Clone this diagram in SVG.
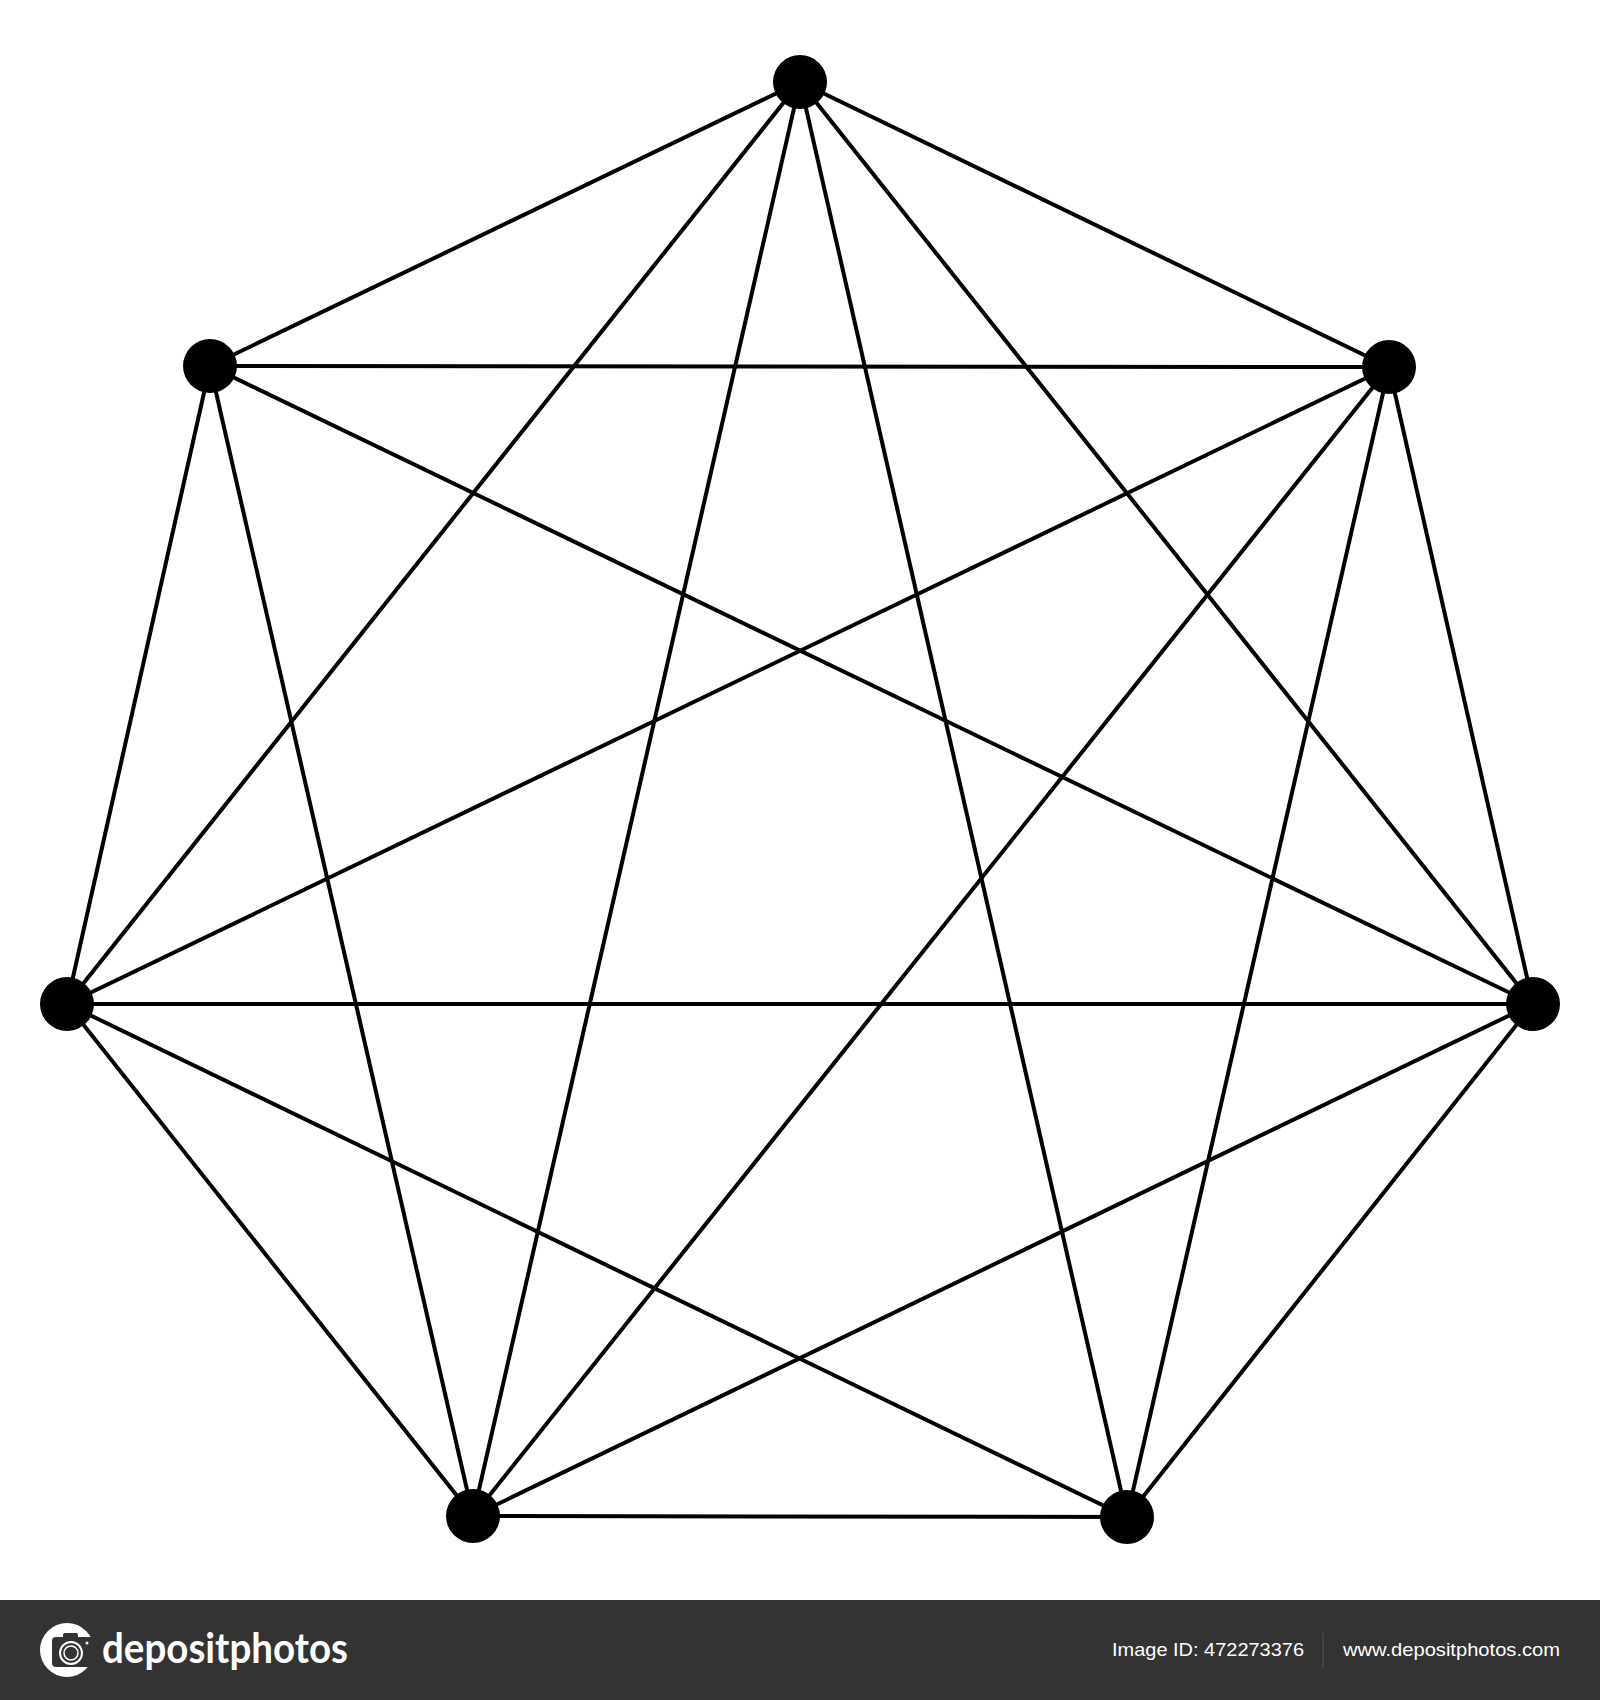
<svg xmlns="http://www.w3.org/2000/svg" width="1600" height="1700" viewBox="0 0 1600 1700">
<style>
.e{stroke:#000;stroke-width:4;stroke-linecap:round;fill:none}
.n{fill:#000}
.bt{font-family:"Liberation Sans",Arial,sans-serif;fill:#fff;font-size:19px}
.logo{font-family:Lato,"Open Sans",sans-serif;font-weight:700;fill:#fff;font-size:42px}
</style>
<rect x="0" y="0" width="1600" height="1700" fill="#fff"/>
<g id="connectors">
<line class="e" x1="800" y1="82" x2="210" y2="366"/>
<line class="e" x1="800" y1="82" x2="1389" y2="367"/>
<line class="e" x1="800" y1="82" x2="67" y2="1004"/>
<line class="e" x1="800" y1="82" x2="1533" y2="1004"/>
<line class="e" x1="800" y1="82" x2="473" y2="1516"/>
<line class="e" x1="800" y1="82" x2="1127" y2="1517"/>
<line class="e" x1="210" y1="366" x2="1389" y2="367"/>
<line class="e" x1="210" y1="366" x2="67" y2="1004"/>
<line class="e" x1="210" y1="366" x2="1533" y2="1004"/>
<line class="e" x1="210" y1="366" x2="473" y2="1516"/>
<line class="e" x1="1389" y1="367" x2="67" y2="1004"/>
<line class="e" x1="1389" y1="367" x2="1533" y2="1004"/>
<line class="e" x1="1389" y1="367" x2="473" y2="1516"/>
<line class="e" x1="1389" y1="367" x2="1127" y2="1517"/>
<line class="e" x1="67" y1="1004" x2="1533" y2="1004"/>
<line class="e" x1="67" y1="1004" x2="473" y2="1516"/>
<line class="e" x1="67" y1="1004" x2="1127" y2="1517"/>
<line class="e" x1="1533" y1="1004" x2="473" y2="1516"/>
<line class="e" x1="1533" y1="1004" x2="1127" y2="1517"/>
<line class="e" x1="473" y1="1516" x2="1127" y2="1517"/>
</g>
<g id="node-top"><circle class="n" cx="800" cy="82" r="27"/></g>
<g id="node-upper-left"><circle class="n" cx="210" cy="366" r="27"/></g>
<g id="node-upper-right"><circle class="n" cx="1389" cy="367" r="27"/></g>
<g id="node-left"><circle class="n" cx="67" cy="1004" r="27"/></g>
<g id="node-right"><circle class="n" cx="1533" cy="1004" r="27"/></g>
<g id="node-bottom-left"><circle class="n" cx="473" cy="1516" r="27"/></g>
<g id="node-bottom-right"><circle class="n" cx="1127" cy="1517" r="27"/></g>
<g id="banner">
<rect x="0" y="1600" width="1600" height="100" fill="#333333"/>
<circle cx="67" cy="1650" r="27" fill="#fff"/>
<rect x="52" y="1637" width="42" height="30" rx="4" fill="#333333"/>
<rect x="63" y="1633" width="15" height="6" rx="2" fill="#333333"/>
<circle cx="71" cy="1653" r="11" fill="none" stroke="#fff" stroke-width="2"/>
<circle cx="71" cy="1653" r="7" fill="none" stroke="#fff" stroke-width="1.5"/>
<circle cx="87" cy="1643" r="1.5" fill="#fff"/>
<text class="logo" x="102" y="1663" textLength="246" lengthAdjust="spacingAndGlyphs">depositphotos</text>
<text class="bt" x="1112" y="1656" textLength="192" lengthAdjust="spacingAndGlyphs">Image ID: 472273376</text>
<line x1="1323" y1="1633" x2="1323" y2="1668" stroke="#555" stroke-width="1"/>
<text class="bt" x="1343" y="1656" textLength="217" lengthAdjust="spacingAndGlyphs">www.depositphotos.com</text>
</g>
</svg>
